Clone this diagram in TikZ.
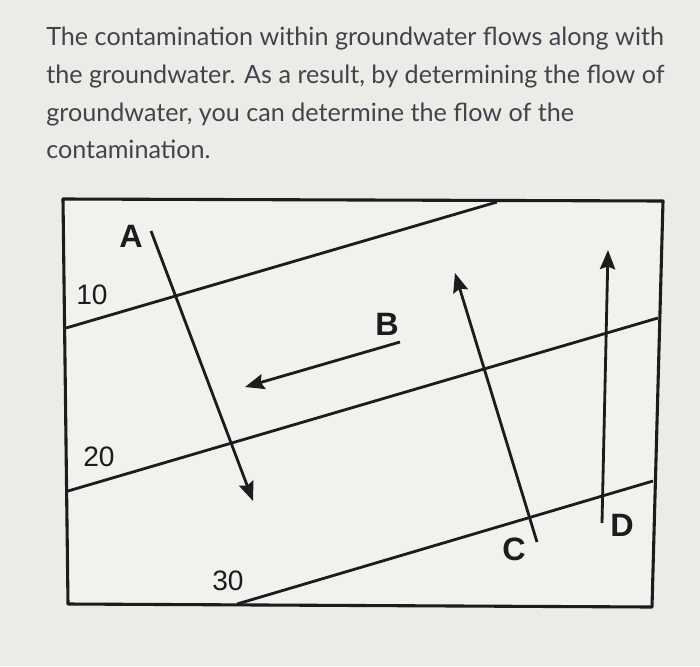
\documentclass[tikz,border=0pt]{standalone}
\usepackage{fontspec}
\setmainfont{Lato}
\newfontfamily\mapfont{Liberation Sans}
\usetikzlibrary{arrows.meta}

\definecolor{screen}{RGB}{236,235,231}
\definecolor{paper}{RGB}{242,241,237}
\definecolor{ink}{RGB}{28,27,30}
\definecolor{prose}{RGB}{66,68,76}

\tikzset{
	frame/.style={line width=2.2pt,draw=ink,fill=paper,line join=round},
	contour/.style={line width=2pt,ink},
	flow/.style={line width=2pt,ink,-{Stealth[length=4.8mm,width=3.8mm,inset=0.7mm]}},
	letter/.style={font=\mapfont\bfseries\fontsize{23}{23}\selectfont,text=ink,inner sep=0pt},
	depth/.style={font=\mapfont\fontsize{20}{20}\selectfont,text=ink,inner sep=0pt}
}

\begin{document}
\begin{tikzpicture}[x=0.25mm,y=-0.25mm]
	\fill[screen] (0,0) rectangle (700,666);
	\useasboundingbox (0,0) rectangle (700,666);
	
	\node[anchor=north west,align=left,inner sep=0pt,text=prose,
		font=\fontsize{17.9}{26.8}\selectfont] (intro) at (46,27) {
		The contamination within groundwater flows along with\\
		the groundwater. As a result, by determining the flow of\\
		groundwater, you can determine the flow of the\\
		contamination.
	};
	
	% map frame
	\coordinate (tl) at (63,199);
	\coordinate (tr) at (663,201);
	\coordinate (br) at (652,607);
	\coordinate (bl) at (68,604);
	\path[frame] (tl)--(tr)--(br)--(bl)--cycle;
	
	% contour lines
	\draw[contour] (66,328)--(497,202);
	\draw[contour] (68,491)--(658,318);
	\draw[contour] (237,604)--(653,481);
	
	\node[depth] (d10) at (92,295) {10};
	\node[depth] (d20) at (99,457) {20};
	\node[depth] (d30) at (228,581) {30};
	
	% flow arrows
	\coordinate (a0) at (151,231);
	\coordinate (a1) at (253,501);
	\coordinate (b0) at (400,342);
	\coordinate (b1) at (245,387);
	\coordinate (c0) at (537,542);
	\coordinate (c1) at (455,273);
	\coordinate (e0) at (602,523);
	\coordinate (e1) at (608,250);
	
	\draw[flow] (a0)--(a1);
	\draw[flow] (b0)--(b1);
	\draw[flow] (c0)--(c1);
	\draw[flow] (e0)--(e1);
	
	\node[letter] (A) at (131,236) {A};
	\node[letter] (B) at (387,324) {B};
	\node[letter] (C) at (514,549) {C};
	\node[letter] (D) at (622,525) {D};
\end{tikzpicture}
\end{document}
